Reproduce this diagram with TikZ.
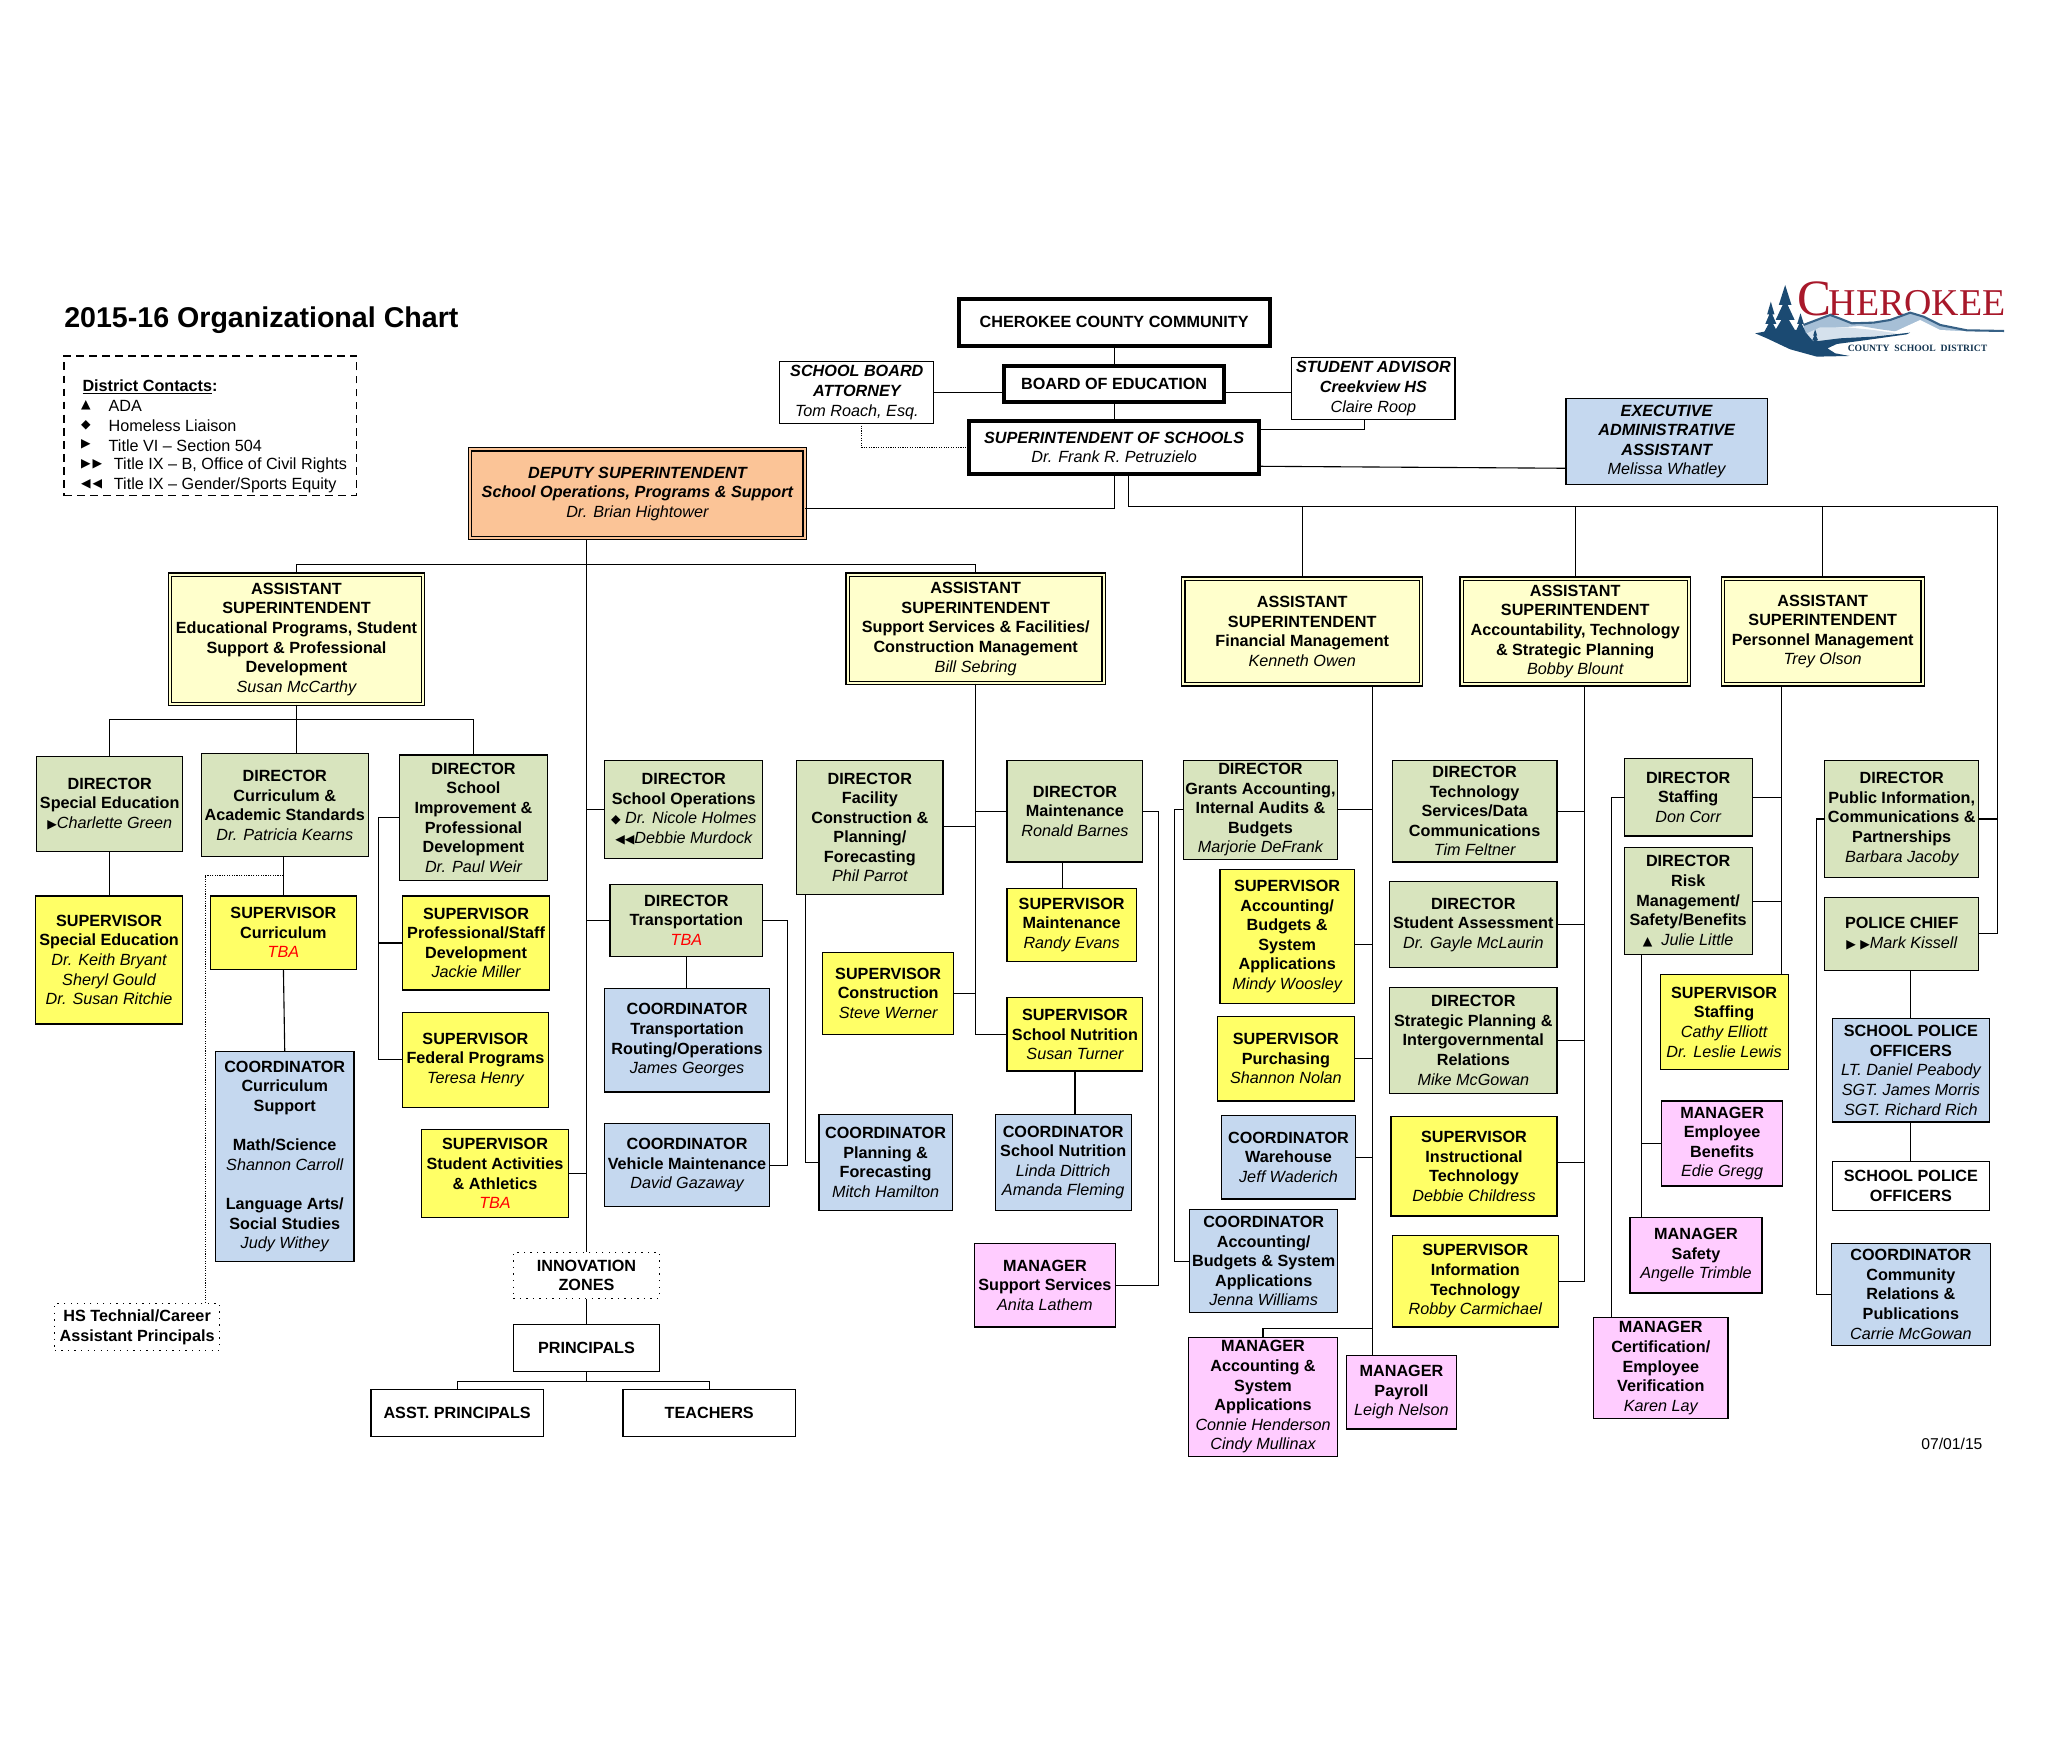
\documentclass[tikz,border=0pt]{standalone}
\usepackage{fontspec}
\setmainfont{Liberation Sans}
\newfontfamily\symfont{DejaVu Sans}
\newfontfamily\logofont{Liberation Serif}

\definecolor{dirgreen}{HTML}{D8E4BE}
\definecolor{supyellow}{HTML}{FFFF66}
\definecolor{coordblue}{HTML}{C5D8EF}
\definecolor{mgrpink}{HTML}{FFCCFF}
\definecolor{asstcream}{HTML}{FFFFCC}
\definecolor{deputyorange}{HTML}{FBC497}
\definecolor{logored}{HTML}{A8182A}
\definecolor{logonavy}{HTML}{1B4A72}
\definecolor{logoblue}{HTML}{A6BFD6}
\definecolor{logopale}{HTML}{D5E1EC}

\newcommand{\orgfont}{\fontsize{12.4}{15}\selectfont\bfseries}
\newcommand{\nm}[1]{{\normalfont\itshape #1}}
\newcommand{\tba}{{\normalfont\itshape\color{red} TBA}}
\newcommand{\upmark}{{\normalfont\symfont\fontsize{9.5}{9.5}\selectfont ▲}}
\newcommand{\dmdmark}{{\normalfont\symfont\fontsize{9.5}{9.5}\selectfont ◆}}
\newcommand{\rgtmark}{{\normalfont\symfont\fontsize{9.5}{9.5}\selectfont ▶}}
\newcommand{\lftmark}{{\normalfont\symfont\fontsize{9.5}{9.5}\selectfont ◀}}
% one fir of the logo: x, top, base, half width
\newcommand{\logotree}[4]{%
  \fill[logonavy] (#1,#2) -- ({#1+0.5*#4},{#2+0.4*(#3-#2)}) -- ({#1+0.2*#4},{#2+0.4*(#3-#2)})
    -- ({#1+0.75*#4},{#2+0.7*(#3-#2)}) -- ({#1+0.3*#4},{#2+0.7*(#3-#2)}) -- ({#1+#4},#3)
    -- ({#1-#4},#3) -- ({#1-0.3*#4},{#2+0.7*(#3-#2)}) -- ({#1-0.75*#4},{#2+0.7*(#3-#2)})
    -- ({#1-0.2*#4},{#2+0.4*(#3-#2)}) -- ({#1-0.5*#4},{#2+0.4*(#3-#2)}) -- cycle;}

\tikzset{
  orgbox/.style={draw=black, line width=.9pt, inner sep=0pt, align=center, font=\orgfont},
  dirbox/.style={orgbox, fill=dirgreen},
  supbox/.style={orgbox, fill=supyellow},
  coordbox/.style={orgbox, fill=coordblue},
  mgrbox/.style={orgbox, fill=mgrpink},
  plainbox/.style={orgbox, fill=white},
  heavybox/.style={plainbox, line width=3pt},
  dotbox/.style={orgbox, dash pattern=on 1pt off 4pt},
  asstbox/.style={orgbox, fill=asstcream, line width=.9pt, double=asstcream, double distance=1.6pt},
  deputybox/.style={orgbox, fill=deputyorange, line width=.9pt, double=deputyorange, double distance=1.6pt},
  legendline/.style={anchor=west, inner sep=0pt, font=\fontsize{12.4}{15}\selectfont},
  conn/.style={draw=black, line width=.85pt},
  dotconn/.style={draw=black, line width=.85pt, densely dotted},
}

\begin{document}
\begin{tikzpicture}[x=1pt,y=-1pt]
\useasboundingbox (0,0) rectangle (1568,1333);

% Title and legend
\node[anchor=west, inner sep=0pt, font=\fontsize{21.9}{24}\selectfont\bfseries] (titleText) at (49,245.5) {2015-16 Organizational Chart};
\node[draw=black, line width=1pt, dash pattern=on 6pt off 4pt, minimum width=224, minimum height=107] (legendBox) at (161,326) {};
\node[legendline] (legendHead) at (63,296) {\textbf{\underline{District Contacts}:}};
\node[legendline] (legendMarkA) at (62,310) {\upmark};
\node[legendline] (legendA) at (83,311) {ADA};
\node[legendline] (legendMarkB) at (62,325.5) {\dmdmark};
\node[legendline] (legendB) at (83,326) {Homeless Liaison};
\node[legendline] (legendMarkC) at (62,340.5) {\rgtmark};
\node[legendline] (legendC) at (83,341) {Title VI -- Section 504};
\node[legendline] (legendMarkD) at (62,355.5) {\rgtmark\hspace{1.5pt}\rgtmark};
\node[legendline] (legendD) at (87,356) {Title IX -- B, Office of Civil Rights};
\node[legendline] (legendMarkE) at (62,371) {\lftmark\hspace{1.5pt}\lftmark};
\node[legendline] (legendE) at (87,371.5) {Title IX -- Gender/Sports Equity};
\node[anchor=east, inner sep=0pt, font=\fontsize{12}{13}\selectfont] (dateText) at (1518,1105.5) {07/01/15};

% Logo
\begin{scope}[shift={(1332.3,206.7)},x=0.2552pt,y=-0.2552pt]
\node[anchor=base west, inner sep=0pt, text=logored, font=\logofont\fontsize{39}{39}\selectfont] (logoC) at (172,138) {C};
\node[anchor=base west, inner sep=0pt, text=logored, font=\logofont\fontsize{29}{29}\selectfont] (logoName) at (265,138) {HEROKEE};
\fill[white] (480,140) -- (510,120) -- (560,135) -- (580,150) -- (480,150) -- cycle;
\fill[logoblue] (190,165) -- (240,146) -- (270,135) -- (300,146) -- (335,160) -- (400,158) -- (450,150) -- (510,128)
  -- (550,140) -- (600,165) -- (680,183) -- (480,186) -- (420,178) -- (360,168) -- (300,172) -- (240,178) -- (195,205) -- cycle;
\fill[white] (540,150) -- (600,180) -- (790,190) -- (440,196) -- cycle;
\fill[logopale] (200,190) -- (240,172) -- (320,172) -- (400,180) -- (470,190) -- (360,205) -- (270,215) -- (215,215) -- cycle;
\draw[logonavy!80!logoblue, line width=1.6pt] (190,165) -- (240,146) -- (270,135) -- (300,146) -- (335,160) -- (400,158) -- (450,150) -- (510,128) -- (550,140) -- (600,165) -- (680,181) -- (792,183);
\fill[logonavy] (45,190) -- (100,180) -- (190,180) -- (220,215) -- (300,205) -- (400,200) -- (510,188) -- (500,193)
  -- (380,210) -- (290,222) -- (262,235) -- (285,250) -- (328,258) -- (230,260) -- (150,238) -- (80,205) -- cycle;
\logotree{135}{45}{195}{38}
\logotree{92}{95}{190}{22}
\logotree{181}{130}{210}{20}
\logotree{225}{178}{225}{12}
\node[anchor=base west, inner sep=0pt, text=logonavy!70!black, font=\logofont\bfseries\fontsize{7.4}{8}\selectfont] (logoSub) at (322,246) {COUNTY\ \ SCHOOL\ \ DISTRICT};
\end{scope}

% Top of the chart
\node[heavybox, minimum width=238, minimum height=36] (community) at (853,247) {\raisebox{1.5pt}{CHEROKEE COUNTY COMMUNITY}};
\node[heavybox, minimum width=168, minimum height=28] (board) at (853,294) {BOARD OF EDUCATION};
\node[heavybox, minimum width=222, minimum height=41] (super) at (853,342.5) {\itshape SUPERINTENDENT OF SCHOOLS\\\nm{Dr. Frank R. Petruzielo}};
\node[plainbox, minimum width=118, minimum height=47] (attorney) at (656,300.5) {\itshape SCHOOL BOARD\\\itshape ATTORNEY\\\nm{Tom Roach, Esq.}};
\node[plainbox, minimum width=125, minimum height=47] (advisor) at (1051.5,297.5) {\itshape STUDENT ADVISOR\\\itshape Creekview HS\\\nm{Claire Roop}};
\node[coordbox, minimum width=154, minimum height=66] (exec) at (1276,338) {\itshape EXECUTIVE\\\itshape ADMINISTRATIVE\\\itshape ASSISTANT\\\nm{Melissa Whatley}};
\node[deputybox, minimum width=256, minimum height=68] (deputy) at (488,378) {\itshape DEPUTY SUPERINTENDENT\\\itshape School Operations, Programs \& Support\\\nm{Dr. Brian Hightower}};

% Assistant superintendents
\node[asstbox, minimum width=194, minimum height=99] (asstA) at (227,489.5) {ASSISTANT\\SUPERINTENDENT\\Educational Programs, Student\\Support \& Professional\\Development\\\nm{Susan McCarthy}};
\node[asstbox, minimum width=196, minimum height=83] (asstB) at (747,481.5) {ASSISTANT\\SUPERINTENDENT\\Support Services \& Facilities/\\Construction Management\\\nm{Bill Sebring}};
\node[asstbox, minimum width=182, minimum height=81] (asstC) at (997,483.5) {ASSISTANT\\SUPERINTENDENT\\Financial Management\\\nm{Kenneth Owen}};
\node[asstbox, minimum width=174, minimum height=81] (asstD) at (1206,483.5) {ASSISTANT\\SUPERINTENDENT\\Accountability, Technology\\\& Strategic Planning\\\nm{Bobby Blount}};
\node[asstbox, minimum width=153, minimum height=81] (asstE) at (1395.5,483.5) {ASSISTANT\\SUPERINTENDENT\\Personnel Management\\\nm{Trey Olson}};

% Educational programs column
\node[dirbox, minimum width=112, minimum height=73] (dirSped) at (84,615.5) {DIRECTOR\\Special Education\\\nm{\rgtmark Charlette Green}};
\node[dirbox, minimum width=128, minimum height=79] (dirCurr) at (218,616.5) {DIRECTOR\\Curriculum \&\\Academic Standards\\\nm{Dr. Patricia Kearns}};
\node[dirbox, minimum width=113, minimum height=96] (dirSchool) at (362.5,626) {DIRECTOR\\School\\Improvement \&\\Professional\\Development\\\nm{Dr. Paul Weir}};
\node[supbox, minimum width=113, minimum height=98] (supSped) at (83.5,735) {SUPERVISOR\\Special Education\\\nm{Dr. Keith Bryant}\\\nm{Sheryl Gould}\\\nm{Dr. Susan Ritchie}};
\node[supbox, minimum width=112, minimum height=56] (supCurr) at (217,714) {SUPERVISOR\\Curriculum\\\tba};
\node[supbox, minimum width=113, minimum height=72] (supProf) at (364.5,722) {SUPERVISOR\\Professional/Staff\\Development\\\nm{Jackie Miller}};
\node[supbox, minimum width=112, minimum height=73] (supFed) at (364,811.5) {SUPERVISOR\\Federal Programs\\\nm{Teresa Henry}};
\node[supbox, minimum width=112, minimum height=67] (supStud) at (379,898.5) {SUPERVISOR\\Student Activities\\\& Athletics\\\tba};
\node[coordbox, minimum width=106, minimum height=161] (coordCurr) at (218,885.5) {COORDINATOR\\Curriculum\\Support\\[15pt]Math/Science\\\nm{Shannon Carroll}\\[15pt]Language Arts/\\Social Studies\\\nm{Judy Withey}};
\node[dotbox, minimum width=126, minimum height=36] (hsAsst) at (105,1016) {HS Technial/Career\\Assistant Principals};

% School operations column
\node[dirbox, minimum width=121, minimum height=75] (dirOps) at (523.5,619.5) {DIRECTOR\\School Operations\\\nm{\dmdmark\ Dr. Nicole Holmes}\\\nm{\lftmark\lftmark Debbie Murdock}};
\node[dirbox, minimum width=117, minimum height=55] (dirTrans) at (525.5,704.5) {DIRECTOR\\Transportation\\\tba};
\node[coordbox, minimum width=126, minimum height=79] (coordTrans) at (526,796.5) {COORDINATOR\\Transportation\\Routing/Operations\\\nm{James Georges}};
\node[coordbox, minimum width=126, minimum height=64] (coordVeh) at (526,892) {COORDINATOR\\Vehicle Maintenance\\\nm{David Gazaway}};
\node[dotbox, minimum width=112, minimum height=35] (innov) at (449,976.5) {INNOVATION\\ZONES};
\node[plainbox, minimum width=112, minimum height=36] (principals) at (449,1032) {PRINCIPALS};
\node[plainbox, minimum width=132, minimum height=36] (asstPrin) at (350,1082) {ASST. PRINCIPALS};
\node[plainbox, minimum width=132, minimum height=36] (teachers) at (543,1082) {TEACHERS};

% Support services column
\node[dirbox, minimum width=112, minimum height=103] (dirFac) at (666,633.5) {DIRECTOR\\Facility\\Construction \&\\Planning/\\Forecasting\\\nm{Phil Parrot}};
\node[dirbox, minimum width=104, minimum height=78] (dirMaint) at (823,621) {DIRECTOR\\Maintenance\\\nm{Ronald Barnes}};
\node[supbox, minimum width=99, minimum height=56] (supMaint) at (820.5,708) {SUPERVISOR\\Maintenance\\\nm{Randy Evans}};
\node[supbox, minimum width=100, minimum height=63] (supConstr) at (680,760.5) {SUPERVISOR\\Construction\\\nm{Steve Werner}};
\node[supbox, minimum width=104, minimum height=56] (supNut) at (823,792) {SUPERVISOR\\School Nutrition\\\nm{Susan Turner}};
\node[coordbox, minimum width=102, minimum height=74] (coordPlan) at (678,890) {COORDINATOR\\Planning \&\\Forecasting\\\nm{Mitch Hamilton}};
\node[coordbox, minimum width=104, minimum height=74] (coordNut) at (814,890) {COORDINATOR\\School Nutrition\\\nm{Linda Dittrich}\\\nm{Amanda Fleming}};
\node[mgrbox, minimum width=108, minimum height=64] (mgrSupp) at (800,984) {MANAGER\\Support Services\\\nm{Anita Lathem}};

% Financial column
\node[dirbox, minimum width=118, minimum height=76] (dirGrants) at (965,620) {DIRECTOR\\Grants Accounting,\\Internal Audits \&\\Budgets\\\nm{Marjorie DeFrank}};
\node[supbox, minimum width=103, minimum height=102] (supAcct) at (985.5,717) {SUPERVISOR\\Accounting/\\Budgets \&\\System\\Applications\\\nm{Mindy Woosley}};
\node[supbox, minimum width=105, minimum height=65] (supPurch) at (984.5,810.5) {SUPERVISOR\\Purchasing\\\nm{Shannon Nolan}};
\node[coordbox, minimum width=103, minimum height=64] (coordWare) at (986.5,886) {COORDINATOR\\Warehouse\\\nm{Jeff Waderich}};
\node[coordbox, minimum width=113, minimum height=79] (coordAcct) at (967.5,965.5) {COORDINATOR\\Accounting/\\Budgets \& System\\Applications\\\nm{Jenna Williams}};
\node[mgrbox, minimum width=114, minimum height=91] (mgrAcct) at (967,1069.5) {MANAGER\\Accounting \&\\System\\Applications\\\nm{Connie Henderson}\\\nm{Cindy Mullinax}};
\node[mgrbox, minimum width=84, minimum height=56] (mgrPay) at (1073,1066) {MANAGER\\Payroll\\\nm{Leigh Nelson}};

% Accountability column
\node[dirbox, minimum width=126, minimum height=78] (dirTech) at (1129,621) {DIRECTOR\\Technology\\Services/Data\\Communications\\\nm{Tim Feltner}};
\node[dirbox, minimum width=128, minimum height=66] (dirAssess) at (1128,708) {DIRECTOR\\Student Assessment\\\nm{Dr. Gayle McLaurin}};
\node[dirbox, minimum width=128, minimum height=81] (dirStrat) at (1128,796.5) {DIRECTOR\\Strategic Planning \&\\Intergovernmental\\Relations\\\nm{Mike McGowan}};
\node[supbox, minimum width=127, minimum height=76] (supInstr) at (1128.5,893) {SUPERVISOR\\Instructional\\Technology\\\nm{Debbie Childress}};
\node[supbox, minimum width=127, minimum height=70] (supInfo) at (1129.5,981) {SUPERVISOR\\Information\\Technology\\\nm{Robby Carmichael}};

% Personnel column
\node[dirbox, minimum width=98, minimum height=59] (dirStaff) at (1292.5,610.5) {DIRECTOR\\Staffing\\\nm{Don Corr}};
\node[dirbox, minimum width=98, minimum height=82] (dirRisk) at (1292.5,690) {DIRECTOR\\Risk\\Management/\\Safety/Benefits\\\nm{\upmark\ \ Julie Little}};
\node[supbox, minimum width=98, minimum height=73] (supStaff) at (1320,782.5) {SUPERVISOR\\Staffing\\\nm{Cathy Elliott}\\\nm{Dr. Leslie Lewis}};
\node[mgrbox, minimum width=93, minimum height=65] (mgrBen) at (1318.5,875.5) {MANAGER\\Employee\\Benefits\\\nm{Edie Gregg}};
\node[mgrbox, minimum width=101, minimum height=58] (mgrSafety) at (1298.5,961) {MANAGER\\Safety\\\nm{Angelle Trimble}};
\node[mgrbox, minimum width=103, minimum height=77] (mgrCert) at (1271.5,1047.5) {MANAGER\\Certification/\\Employee\\Verification\\\nm{Karen Lay}};

% Public information and police
\node[dirbox, minimum width=118, minimum height=90] (dirPub) at (1456,627) {DIRECTOR\\Public Information,\\Communications \&\\Partnerships\\\nm{Barbara Jacoby}};
\node[dirbox, minimum width=118, minimum height=56] (police) at (1456,715) {POLICE CHIEF\\\nm{\rgtmark\ \rgtmark Mark Kissell}};
\node[coordbox, minimum width=120, minimum height=79] (schPolA) at (1463,819.5) {SCHOOL POLICE\\OFFICERS\\\nm{LT. Daniel Peabody}\\\nm{SGT. James Morris}\\\nm{SGT. Richard Rich}};
\node[plainbox, minimum width=120, minimum height=38] (schPolB) at (1463,908) {SCHOOL POLICE\\OFFICERS};
\node[coordbox, minimum width=122, minimum height=78] (coordComm) at (1463,991) {COORDINATOR\\Community\\Relations \&\\Publications\\\nm{Carrie McGowan}};

% Free ends of the connectors
\coordinate (attorneyTap) at (659.5,324);
\coordinate (advisorTap) at (1045,321);
\coordinate (superTap) at (864,363);
\coordinate (busRight) at (1529,388);
\coordinate (deputyTap) at (449,413);
\coordinate (currTap) at (217,656);
\coordinate (hsTap) at (157,998);
\coordinate (schoolBus) at (290,626);
\coordinate (transBus) at (603,704.5);
\coordinate (facTap) at (617,685);
\coordinate (maintTap) at (813.5,660);
\coordinate (maintBus) at (887,621);
\coordinate (grantsBus) at (899,620);
\coordinate (trunkC) at (1051,525);
\coordinate (trunkD) at (1213,525);
\coordinate (trunkE) at (1364,525);
\coordinate (staffBus) at (1234,610.5);
\coordinate (riskTap) at (1257,731);
\coordinate (pubBus) at (1390.5,627);
\coordinate (policeTap) at (1463,743);

% Top connectors
\draw[conn] (community.south) -- (board.north);
\draw[conn] (board.south) -- (super.north);
\draw[conn] (attorney.east) -- (board.west |- attorney.east);
\draw[conn] (board.east |- attorney.east) -- (advisor.west |- attorney.east);
\draw[conn] (advisorTap) |- (super.east |- 0,329);
\draw[dotconn] (attorneyTap) |- (super.west);
\draw[conn] (super.east |- 0,357) -- (exec.west |- 0,358.5);
\draw[conn] (super.south) -- (super.south |- 0,389) -- (deputy.east |- 0,389);
\draw[conn] (superTap) |- (busRight) -- (busRight |- police.east) -- (police.east);
\draw[conn] (asstC.north |- busRight) -- (asstC.north);
\draw[conn] (asstD.north |- busRight) -- (asstD.north);
\draw[conn] (asstE.north |- busRight) -- (asstE.north);
\draw[conn] (dirPub.east) -- (busRight |- dirPub.east);

% Deputy connectors
\draw[conn] (deputyTap) -- (innov.north);
\draw[conn] (asstA.north) -- (asstA.north |- 0,432) -- (asstB.north |- 0,432) -- (asstB.north);
\draw[conn] (dirOps.west) -- (deputyTap |- dirOps.west);
\draw[conn] (dirTrans.west) -- (deputyTap |- dirTrans.west);
\draw[conn] (supStud.east) -- (deputyTap |- supStud.east);
\draw[conn] (dirTrans.south) -- (dirTrans.south |- coordTrans.north);
\draw[conn] (dirTrans.east) -- (transBus) |- (coordVeh.east);
\draw[conn] (innov.south) -- (principals.north);
\draw[conn] (asstPrin.north) -- (asstPrin.north |- 0,1057.5) -- (teachers.north |- 0,1057.5) -- (teachers.north);
\draw[conn] (principals.south) -- (principals.south |- 0,1057.5);

% Educational programs connectors
\draw[conn] (dirSped.north) -- (dirSped.north |- 0,551) -- (dirSchool.north |- 0,551) -- (dirSchool.north);
\draw[conn] (asstA.south) -- (asstA.south |- dirCurr.north);
\draw[conn] (dirSped.south) -- (dirSped.south |- supSped.north);
\draw[conn] (currTap) -- (supCurr.north);
\draw[conn] (supCurr.south) -- (coordCurr.north);
\draw[dotconn] (currTap |- 0,670) -| (hsTap);
\draw[conn] (dirSchool.west) -- (schoolBus) |- (supFed.west);
\draw[conn] (supProf.west) -- (schoolBus |- supProf.west);

% Support services connectors
\draw[conn] (asstB.south) -- (asstB.south |- supNut.west) -- (supNut.west);
\draw[conn] (dirMaint.west) -- (asstB.south |- dirMaint.west);
\draw[conn] (dirFac.east |- 0,633) -- (asstB.south |- 0,633);
\draw[conn] (supConstr.east) -- (asstB.south |- supConstr.east);
\draw[conn] (facTap) |- (coordPlan.west);
\draw[conn] (maintTap) -- (maintTap |- supMaint.north);
\draw[conn] (supNut.south) -- (supNut.south |- coordNut.north);
\draw[conn] (dirMaint.east) -- (maintBus) |- (mgrSupp.east);

% Financial connectors
\draw[conn] (trunkC) -- (trunkC |- mgrPay.north);
\draw[conn] (dirGrants.east) -- (trunkC |- dirGrants.east);
\draw[conn] (supAcct.east |- 0,723) -- (trunkC |- 0,723);
\draw[conn] (supPurch.east) -- (trunkC |- supPurch.east);
\draw[conn] (coordWare.east) -- (trunkC |- coordWare.east);
\draw[conn] (trunkC |- 0,1017) -- (mgrAcct.north |- 0,1017) -- (mgrAcct.north);
\draw[conn] (dirGrants.west) -- (grantsBus) |- (coordAcct.west);

% Accountability connectors
\draw[conn] (trunkD) -- (trunkD |- supInfo.east) -- (supInfo.east);
\draw[conn] (dirTech.east) -- (trunkD |- dirTech.east);
\draw[conn] (dirAssess.east) -- (trunkD |- dirAssess.east);
\draw[conn] (dirStrat.east) -- (trunkD |- dirStrat.east);
\draw[conn] (supInstr.east |- 0,890) -- (trunkD |- 0,890);

% Personnel connectors
\draw[conn] (trunkE) -- (trunkE |- supStaff.north);
\draw[conn] (dirStaff.east) -- (trunkE |- dirStaff.east);
\draw[conn] (dirRisk.east) -- (trunkE |- dirRisk.east);
\draw[conn] (dirStaff.west) -- (staffBus) -- (staffBus |- mgrCert.north);
\draw[conn] (riskTap) -- (riskTap |- mgrSafety.north);
\draw[conn] (mgrBen.west) -- (riskTap |- mgrBen.west);

% Public information and police connectors
\draw[conn] (dirPub.west) -- (pubBus) |- (coordComm.west);
\draw[conn] (policeTap) -- (schPolA.north);
\draw[conn] (schPolA.south) -- (schPolB.north);

\end{tikzpicture}
\end{document}
